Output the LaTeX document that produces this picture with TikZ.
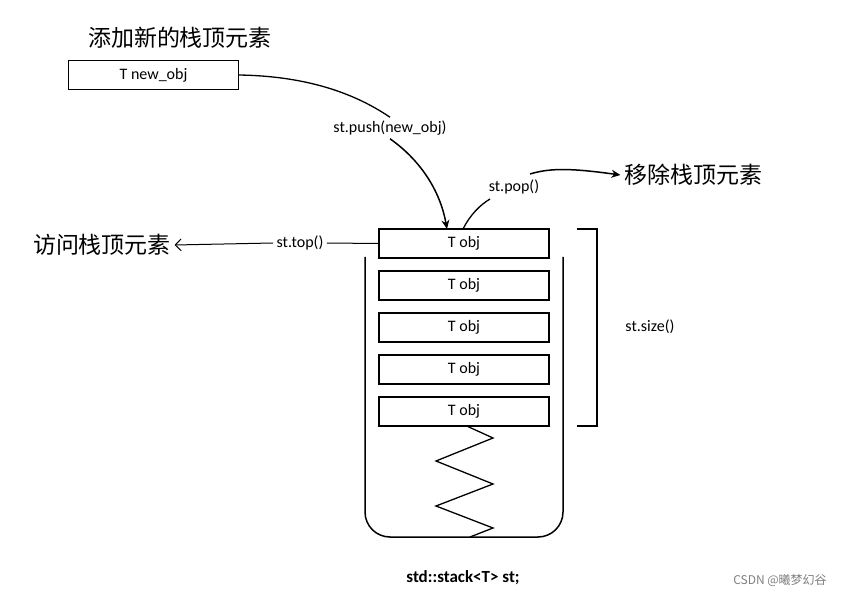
\documentclass[tikz,border=0pt]{standalone}
\usepackage{fontspec}
\setmainfont{Carlito}
\newfontfamily\cjk{Noto Sans CJK SC}
\usetikzlibrary{arrows.meta}
\begin{document}
\begin{tikzpicture}[x=1pt,y=-1pt,
  box/.style={draw,line width=1.2pt,minimum width=170pt,minimum height=29pt,inner sep=0pt,font=\fontsize{16}{18}\selectfont},
  lbl/.style={font=\fontsize{16}{18}\selectfont},
  zh/.style={font=\cjk\fontsize{23}{26}\selectfont},
  arr/.style={line width=1.5pt,-{Stealth[length=9pt,width=8pt]}}]
\useasboundingbox[fill=white] (0,0) rectangle (847,599);
\node[zh] (t1) at (180,38) {添加新的栈顶元素};
\node[box] (new) at (153.5,75) {T new\_obj};
\node[box] (b1) at (464,243.5) {T obj};
\node[box] (b2) at (464,285.5) {T obj};
\node[box] (b3) at (464,327.5) {T obj};
\node[box] (b4) at (464,369.5) {T obj};
\node[box] (b5) at (464,411.5) {T obj};
\draw[line width=1.5pt,rounded corners=25pt] (365,257) -- (365,537) -- (563,537) -- (563,257);
\draw[line width=1.3pt] (b5.south) ++(4,0) coordinate (z0) -- (493,438) -- (436,461) -- (493,484) -- (436,506) -- (493,528) -- (470,537);
\draw[line width=1.3pt] (577,229) -- (597,229) -- (597,426) -- (577,426);
\node[lbl] (size) at (650,327) {st.size()};
\node[lbl] (push) at (390,128) {st.push(new\_obj)};
\draw[line width=1.3pt] (new.east) .. controls (300,76) and (350,90) .. (push.north);
\draw[arr] (push.south) .. controls (420,160) and (440,190) .. (447,229);
\node[lbl] (top) at (300,243) {st.top()};
\draw[line width=1pt] (top.east) -- (b1.west);
\node[zh] (t2) at (102,245) {访问栈顶元素};
\draw[line width=1pt,-{Straight Barb[length=6pt]}] (top.west) -- (t2.east);
\node[lbl] (pop) at (514,187) {st.pop()};
\draw[line width=1.3pt] (463,229) .. controls (470,215) and (480,205) .. (490,199);
\node[zh] (t3) at (693,175) {移除栈顶元素};
\draw[arr] (530,174) .. controls (550,168) and (570,168) .. (t3.west);
\node[font=\bfseries\fontsize{17}{20}\selectfont] (cap) at (463,578) {std::stack<T> st;};
\node[font=\cjk\fontsize{12}{14}\selectfont,text=gray] (wm) at (780,580) {CSDN @曦梦幻谷};
\end{tikzpicture}
\end{document}
